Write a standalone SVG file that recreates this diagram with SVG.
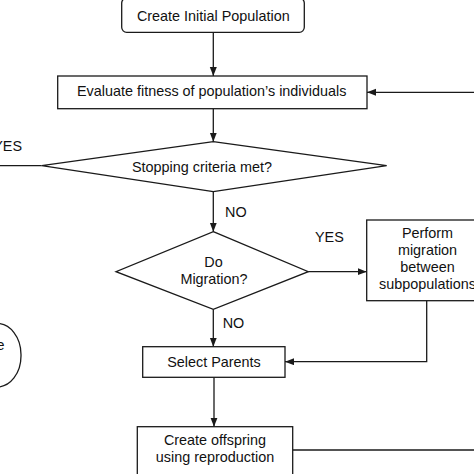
<svg xmlns="http://www.w3.org/2000/svg" width="474" height="474" viewBox="0 0 474 474">
<style>
.n{fill:#fff;stroke:#1a1a1a;stroke-width:1.3}
.c{fill:none;stroke:#1a1a1a;stroke-width:1.3}
text{font-family:"Liberation Sans",Arial,sans-serif;font-size:14.4px;fill:#111}
.m{text-anchor:middle}
</style>
<defs>
<marker id="ah" markerUnits="userSpaceOnUse" markerWidth="10" markerHeight="8" refX="9" refY="3.5" orient="auto">
<path d="M0,0 L9,3.5 L0,7 z" fill="#1a1a1a"/>
</marker>
</defs>
<rect width="474" height="474" fill="#fff"/>
<g id="connectors">
<line class="c" x1="213.3" y1="32.3" x2="213.3" y2="76" marker-end="url(#ah)"/>
<line class="c" x1="474" y1="92.3" x2="367" y2="92.3" marker-end="url(#ah)"/>
<line class="c" x1="213.3" y1="108.7" x2="213.3" y2="141.7" marker-end="url(#ah)"/>
<line class="c" x1="0" y1="165.7" x2="41.7" y2="165.7"/>
<line class="c" x1="213.3" y1="191.7" x2="213.3" y2="231.7" marker-end="url(#ah)"/>
<line class="c" x1="308.3" y1="271.7" x2="366.7" y2="271.7" marker-end="url(#ah)"/>
<line class="c" x1="213.3" y1="309.3" x2="213.3" y2="346.7" marker-end="url(#ah)"/>
<polyline class="c" points="426.7,300.7 426.7,361.7 285,361.7" marker-end="url(#ah)"/>
<line class="c" x1="214" y1="377.3" x2="214" y2="426.7" marker-end="url(#ah)"/>
<line class="c" x1="292.7" y1="450" x2="474" y2="450"/>
<text x="22" y="151" text-anchor="end">YES</text>
<text x="225" y="216.5">NO</text>
<text x="315" y="241.7">YES</text>
<text x="222.7" y="328.3">NO</text>
</g>
<g id="create-initial">
<rect class="n" x="121.7" y="-2" width="182.6" height="34.3" rx="5"/>
<text class="m" x="213.3" y="20.5">Create Initial Population</text>
</g>
<g id="evaluate">
<rect class="n" x="57.7" y="76" width="309.3" height="32.7"/>
<text class="m" x="211.7" y="95.5">Evaluate fitness of population’s individuals</text>
</g>
<g id="stopping">
<polygon class="n" points="213.3,141.7 386.7,165.7 213.3,191.7 41.7,165.7"/>
<text class="m" x="202" y="171.5">Stopping criteria met?</text>
</g>
<g id="do-migration">
<polygon class="n" points="213.3,231.7 308.3,271.7 213.3,309.3 116,271.7"/>
<text class="m" x="213.5" y="267.3">Do</text>
<text class="m" x="214" y="284.3">Migration?</text>
</g>
<g id="perform-migration">
<rect class="n" x="366.7" y="220" width="120" height="80.7"/>
<text class="m" x="427.5" y="238.3">Perform</text>
<text class="m" x="427.5" y="255">migration</text>
<text class="m" x="427.5" y="271.7">between</text>
<text class="m" x="427.5" y="288.6">subpopulations</text>
</g>
<g id="select-parents">
<rect class="n" x="142.7" y="346.7" width="142.3" height="30.6"/>
<text class="m" x="214" y="366.7">Select Parents</text>
</g>
<g id="create-offspring">
<rect class="n" x="137.3" y="426.7" width="155.4" height="60"/>
<text class="m" x="215" y="445">Create offspring</text>
<text class="m" x="215" y="461.7">using reproduction</text>
</g>
<g id="terminal">
<rect class="n" x="-60" y="323.5" width="81" height="63.5" rx="24" ry="31"/>
<text x="4.5" y="350" text-anchor="end">e</text>
</g>
</svg>
